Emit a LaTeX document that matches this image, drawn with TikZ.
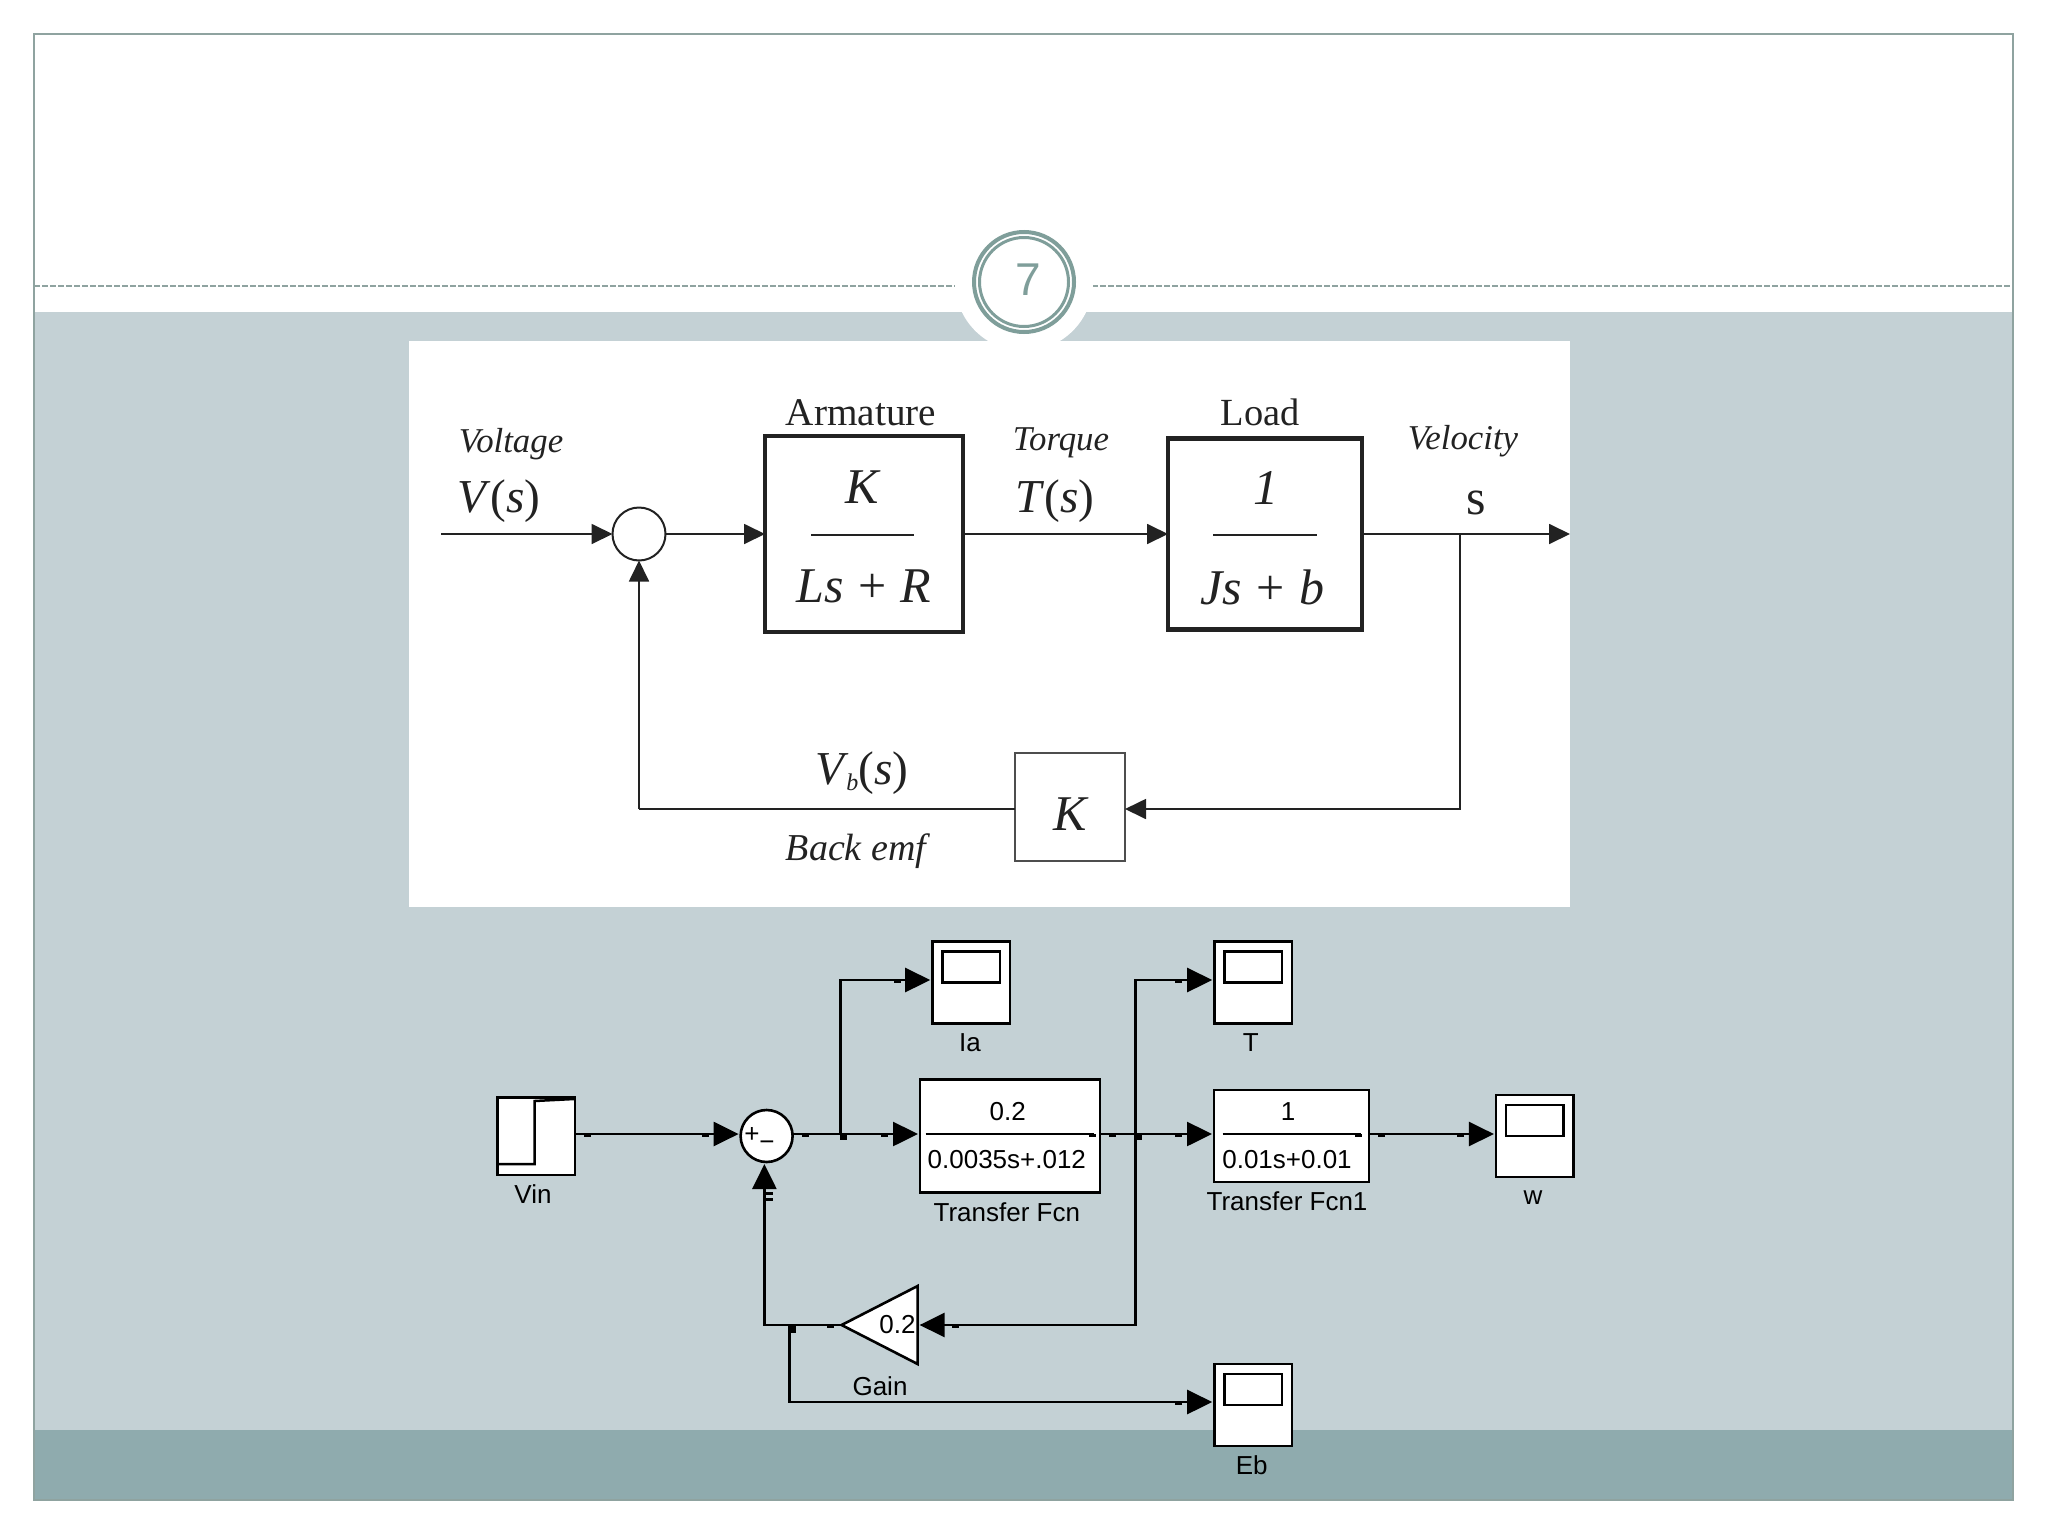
\documentclass[tikz,border=0pt]{standalone}
\usepackage{fontspec}
\setmainfont{Liberation Serif}
\setsansfont{Liberation Sans}
\usepackage{xcolor}
\usetikzlibrary{arrows.meta,shapes.geometric}

\definecolor{framegray}{HTML}{8FA3A0}
\definecolor{ringgreen}{HTML}{7F9E9A}
\definecolor{bandlight}{HTML}{C4D1D5}
\definecolor{banddark}{HTML}{8FABAE}
\definecolor{inkgray}{HTML}{222222}

\tikzset{
    every node/.style={inner sep=0pt, outer sep=0pt},
    thinline/.style={line width=0.9pt, draw=inkgray},
    thinarrow/.style={thinline, -{Triangle[length=10.5pt,width=10pt]}},
    simline/.style={line width=1.25pt, draw=black},
    simarrow/.style={simline, -{Triangle[length=12.5pt,width=12pt]}, shorten >=1pt},
    heavybox/.style={draw=inkgray, line width=2.2pt},
    simbox/.style={draw=black, fill=white, line width=1.3pt},
    fracbar/.style={line width=1.4pt, draw=inkgray},
    romanlab/.style={text=inkgray, font=\fontsize{19.2}{22}\selectfont},
    italiclab/.style={text=inkgray, font=\itshape\fontsize{17.4}{20}\selectfont},
    bigmath/.style={text=inkgray, font=\fontsize{25}{28}\selectfont},
    symlab/.style={text=inkgray, font=\fontsize{23.6}{28}\selectfont},
    simtext/.style={text=black, font=\sffamily\fontsize{13}{15}\selectfont},
}

\begin{document}
\begin{tikzpicture}[x=0.5pt, y=-0.5pt]
    \useasboundingbox (0,0) rectangle (2048,1536);
    \fill[bandlight] (34,312) rectangle (2013,1430);
    \fill[banddark] (34,1430) rectangle (2013,1500);
    \draw[framegray, line width=1.3pt] (34,34) rectangle (2013,1500);
    %页面:浅色带、深色带、外框
    \coordinate (dashleft) at (34,286);
    \coordinate (dashright) at (2013,286);
    \coordinate (dashgapl) at (956,286);
    \coordinate (dashgapr) at (1092,286);
    \draw[framegray, line width=1pt, dash pattern=on 2.75pt off 1.25pt] (dashleft) -- (dashgapl);
    \draw[framegray, line width=1pt, dash pattern=on 2.75pt off 1.25pt] (dashgapr) -- (dashright);
    \fill[white] (1024,282) circle (69);
    \node[circle, draw=ringgreen, line width=2pt, minimum size=50pt] (badgeout) at (1024,282) {};
    \node[circle, draw=ringgreen, line width=1.5pt, minimum size=44.5pt] (badge) at (1024,282) {};
    \node[text=ringgreen, font=\sffamily\fontsize{23}{25}\selectfont] (pagenum) at (1028,280) {7};
    %页码圆环,虚线在(956,1092)之间断开

    \fill[white] (409,341) rectangle (1570,907);
    \node[heavybox, minimum width=99pt, minimum height=98pt] (armature) at (864,534) {};
    \node[heavybox, minimum width=97pt, minimum height=95.5pt] (load) at (1265,534) {};
    \node[draw=inkgray!80, line width=1.4pt, minimum width=55pt, minimum height=54pt] (gainK) at (1070,807) {};
    \node[circle, draw=inkgray, line width=1pt, minimum size=26.5pt] (junction) at (639,534) {};
    \coordinate (vstart) at (441,534);
    \coordinate (vend) at (1570,534);
    \coordinate (tap) at (1460,534);
    \coordinate (tapdown) at (1460,809);
    \coordinate (turn) at (639,809);
    \draw[thinarrow] (vstart) -- (junction.west);
    \draw[thinarrow] (junction.east) -- (armature.west);
    \draw[thinarrow] (armature.east) -- (load.west);
    \draw[thinarrow] (load.east) -- (vend);
    \draw[thinarrow] (tap) -- (tapdown) -- (gainK.east |- tapdown);
    \draw[thinline] (gainK.west |- turn) -- (turn);
    \draw[thinarrow] (turn) -- (junction.south);
    %上图方框与连线
    \coordinate (armbarl) at (811,535);
    \coordinate (armbarr) at (914,535);
    \coordinate (loadbarl) at (1213,535);
    \coordinate (loadbarr) at (1317,535);
    \draw[fracbar] (armbarl) -- (armbarr);
    \draw[fracbar] (loadbarl) -- (loadbarr);
    \node[bigmath] (armnum) at (863,487) {\textit{K}};
    \node[bigmath] (armden) at (864,586) {\textit{Ls}\kern1pt{} + \kern1pt\textit{R}};
    \node[bigmath] (loadnum) at (1266,488) {\textit{1}};
    \node[bigmath] (loaddenom) at (1262.5,587) {\textit{Js}\kern1pt{} + \kern1pt\textit{b}};
    \node[bigmath] (gainKtext) at (1071,814) {\textit{K}};
    \node[text=inkgray, font=\fontsize{19.6}{22}\selectfont] (armlab) at (861,413) {Armature};
    \node[romanlab] (loadlab) at (1260,412) {Load};
    \node[italiclab] (voltlab) at (511,444) {Voltage};
    \node[italiclab] (torqlab) at (1061,443) {Torque};
    \node[italiclab] (vellab) at (1463,441.5) {Velocity};
    \node[symlab] (vsym) at (499,501) {\textit{V}(\textit{s})};
    \node[symlab] (tsym) at (1055,501) {\textit{T}(\textit{s})};
    \node[bigmath] (ssym) at (1476,503) {s};
    \node[symlab] (vbsym) at (862,773) {\textit{V}\kern-1.5pt\raisebox{-3pt}{\fontsize{12}{14}\selectfont\textit{b}}(\textit{s})};
    \node[text=inkgray, font=\itshape\fontsize{19}{22}\selectfont] (emflab) at (856,851) {Back emf};
    %上图文字

    \coordinate (mainrow) at (0,1134);
    \node[simbox, minimum width=38.8pt, minimum height=38.8pt] (vin) at (536,1136) {};
    \node[simbox, circle, minimum size=26pt] (sum) at (766.6,1136) {};
    \node[simbox, minimum width=90pt, minimum height=56.5pt] (tfa) at (1010,1136) {};
    \node[simbox, minimum width=77.5pt, minimum height=46pt] (tfb) at (1291.5,1136) {};
    \node[simbox, isosceles triangle, shape border rotate=180, isosceles triangle stretches,
        minimum width=39pt, minimum height=38pt, anchor=apex] (gain) at (841.6,1325) {};
    \foreach \name/\cx/\cy in {ia/971/982.5, t/1253/982.5, eb/1253/1405, w/1534.7/1136}
        {\node[simbox, minimum width=38.8pt, minimum height=41pt] (\name) at (\cx,\cy) {};
         \node[simbox, minimum width=28.8pt, minimum height=15.5pt] (\name screen) at (\cx,\cy-15.5) {};}
    %下图方块,示波器用循环画
    \coordinate (stepa) at (496,1164);
    \coordinate (stepb) at (534.5,1164);
    \coordinate (stepc) at (534.5,1101);
    \coordinate (stepd) at (574,1099);
    \draw[simline] (stepa) -- (stepb) -- (stepc) -- (stepd);
    \coordinate (tfabarl) at (925.5,1134);
    \coordinate (tfabarr) at (1094,1134);
    \coordinate (tfbbarl) at (1222.7,1134);
    \coordinate (tfbbarr) at (1360.7,1134);
    \draw[simline] (tfabarl) -- (tfabarr);
    \draw[simline] (tfbbarl) -- (tfbbarr);
    \coordinate (ianode) at (840.7,1134);
    \coordinate (iatop) at (840.7,980);
    \coordinate (tnode) at (1135.4,1134);
    \coordinate (ttop) at (1135.4,980);
    \coordinate (tback) at (1135.4,1325);
    \coordinate (sumturn) at (764.4,1325);
    \coordinate (ebnode) at (789.4,1325);
    \coordinate (ebturn) at (789.4,1402);
    \draw[simarrow] (vin.east |- mainrow) -- (sum.west |- mainrow);
    \draw[simarrow] (sum.east |- mainrow) -- (tfa.west |- mainrow);
    \draw[simarrow] (ianode) -- (iatop) -- (ia.west |- iatop);
    \draw[simarrow] (tfa.east |- mainrow) -- (tfb.west |- mainrow);
    \draw[simarrow] (tnode) -- (ttop) -- (t.west |- ttop);
    \draw[simarrow] (tfb.east |- mainrow) -- (w.west |- mainrow);
    \draw[simarrow] (tnode) -- (tback) -- (gain.lower side);
    \draw[simarrow] (gain.apex) -- (sumturn) -- (sumturn |- sum.south);
    \draw[simarrow] (ebnode) -- (ebturn) -- (eb.west |- ebturn);
    %下图连线
    \foreach \px/\py in {843.4/1136, 1138/1136, 792.5/1329}
        {\fill[black] (\px-3.5,\py-3.5) rectangle (\px+3.5,\py+3.5);}
    \foreach \px/\py in {587/1135, 705/1135, 805/1135, 884/1135, 1092/1135, 1112/1135, 1178/1135, 1358/1135, 1381/1135, 1460/1135, 897/981, 1178/981, 1178/1403, 955.5/1326, 830/1326, 769/1193, 769/1199}
        {\fill[black] (\px-3.5,\py-1.5) rectangle (\px+3.5,\py+1.5);}
    %连接点和短划
    \node[simtext] (sumplus) at (752,1135) {+};
    \node[simtext] (summinus) at (767,1146) {−};
    \node[simtext] (tfanum) at (1007.7,1112) {0.2};
    \node[simtext] (tfaden) at (1006.8,1160) {0.0035s+.012};
    \node[simtext] (tfbnum) at (1288,1112) {1};
    \node[simtext] (tfbden) at (1287,1160) {0.01s+0.01};
    \node[simtext] (gainval) at (897.4,1324.6) {0.2};
    \node[simtext] (vinlab) at (533,1194) {Vin};
    \node[simtext] (ialab) at (970,1043) {Ia};
    \node[simtext] (tlab) at (1250.7,1043) {T};
    \node[simtext] (wlab) at (1533,1198) {w};
    \node[simtext] (eblab) at (1251.7,1465) {Eb};
    \node[simtext] (tfalab) at (1006.8,1212) {Transfer Fcn};
    \node[simtext] (tfblab) at (1287,1201.5) {Transfer Fcn1};
    \node[simtext] (gainlab) at (880,1386) {Gain};
    %下图文字
\end{tikzpicture}
\end{document}
